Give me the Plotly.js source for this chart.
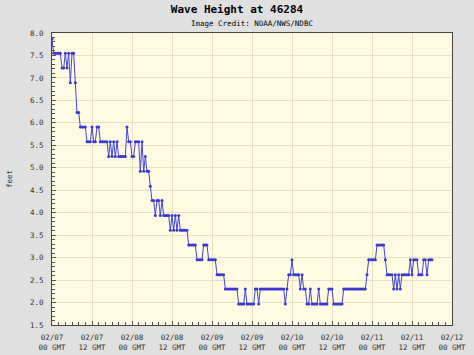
<!DOCTYPE html>
<html>
<head>
<meta charset="utf-8">
<script src="https://cdn.plot.ly/plotly-3.0.1.min.js"></script>
<style>
html,body{margin:0;padding:0;background:#e0e0e0;}
#chart{width:474px;height:355px;}
</style>
</head>
<body>
<div id="chart"></div>
<script>
// Half-hourly wave height readings (feet), starting 02/07 00:00 GMT
const startTime = Date.UTC(2025, 1, 7, 0, 0);
const stepMinutes = 30;
const waveHeightFeet = [
  7.87,7.55,7.55,7.55,7.55,7.55,7.22,7.22,7.55,7.22,
  7.55,6.89,7.55,7.55,6.89,6.23,6.23,5.91,5.91,5.91,
  5.91,5.58,5.58,5.58,5.91,5.58,5.58,5.91,5.91,5.58,
  5.58,5.58,5.58,5.58,5.25,5.58,5.25,5.58,5.25,5.58,
  5.25,5.25,5.25,5.25,5.25,5.91,5.58,5.58,5.25,5.25,
  5.58,5.58,5.58,4.92,5.58,4.92,5.25,4.92,4.92,4.59,
  4.27,4.27,3.94,4.27,4.27,3.94,4.27,3.94,3.94,3.94,
  3.94,3.61,3.94,3.61,3.94,3.61,3.94,3.61,3.61,3.61,
  3.61,3.61,3.28,3.28,3.28,3.28,3.28,2.95,2.95,2.95,
  2.95,3.28,3.28,3.28,2.95,2.95,2.95,2.95,2.95,2.62,
  2.62,2.62,2.62,2.62,2.30,2.30,2.30,2.30,2.30,2.30,
  2.30,2.30,1.97,1.97,1.97,1.97,2.30,1.97,1.97,1.97,
  1.97,1.97,2.30,2.30,1.97,2.30,2.30,2.30,2.30,2.30,
  2.30,2.30,2.30,2.30,2.30,2.30,2.30,2.30,2.30,2.30,
  1.97,2.30,2.62,2.62,2.95,2.62,2.62,2.62,2.62,2.30,
  2.62,2.30,2.30,1.97,1.97,2.30,1.97,1.97,1.97,1.97,
  2.30,1.97,1.97,1.97,1.97,1.97,2.30,2.30,2.30,1.97,
  1.97,1.97,1.97,1.97,1.97,2.30,2.30,2.30,2.30,2.30,
  2.30,2.30,2.30,2.30,2.30,2.30,2.30,2.30,2.30,2.62,
  2.95,2.95,2.95,2.95,2.95,3.28,3.28,3.28,3.28,3.28,
  2.95,2.62,2.62,2.62,2.62,2.30,2.62,2.30,2.62,2.30,
  2.62,2.62,2.62,2.62,2.62,2.95,2.62,2.95,2.95,2.95,
  2.62,2.62,2.62,2.95,2.95,2.62,2.95,2.95,2.95
];
const tickDays = ['02/07','02/07','02/08','02/08','02/09','02/09','02/10','02/10','02/11','02/11','02/12'];
const tickHours = ['00','12','00','12','00','12','00','12','00','12','00'];

const times = waveHeightFeet.map((_, i) => startTime + i * stepMinutes * 60000);
const tickvals = tickDays.map((_, i) => startTime + i * 12 * 3600000);
const ticktext = tickDays.map((d, i) => d + '<br>' + tickHours[i] + ' GMT');

const trace = {
  x: times,
  y: waveHeightFeet,
  type: 'scatter',
  mode: 'lines+markers',
  line: {color: '#4444dd', width: 1},
  marker: {color: '#3a3ad0', size: 3, symbol: 'circle'},
  hoverinfo: 'x+y'
};

const mono = 'DejaVu Sans Mono, Liberation Mono, monospace';
const layout = {
  width: 474, height: 355,
  paper_bgcolor: '#e0e0e0',
  plot_bgcolor: '#fffbe3',
  margin: {l: 52, r: 22, t: 33, b: 30, pad: 0},
  showlegend: false,
  title: {text: '<b>Wave Height at 46284</b>', font: {family: mono, size: 11, color: '#000'}, x: 0.5, xanchor: 'center', y: 0.975, yanchor: 'middle', yref: 'container'},
  annotations: [{
    text: 'Image Credit: NOAA/NWS/NDBC', xref: 'paper', yref: 'paper',
    x: 0.5 , y: 1, yshift: 10, xanchor: 'center', yanchor: 'middle', showarrow: false,
    font: {family: mono, size: 7.5, color: '#000'}
  }],
  xaxis: {
    type: 'date',
    range: [tickvals[0], tickvals[tickvals.length - 1]],
    tickmode: 'array', tickvals: tickvals, ticktext: ticktext,
    tickfont: {family: mono, size: 7.5, color: '#333'},
    ticks: 'inside', ticklen: 4, tickcolor: '#555',
    ticklabelstandoff: 5,
    showgrid: true, gridcolor: '#e8dfc2', gridwidth: 1,
    showline: true, linecolor: '#444', linewidth: 1, mirror: true,
    zeroline: false,
    minor: {dtick: 2 * 3600000, ticks: 'inside', ticklen: 3, tickcolor: '#555', showgrid: false},
    fixedrange: true
  },
  yaxis: {
    range: [1.5, 8.0],
    dtick: 0.5, tick0: 1.5, tickformat: '.1f',
    tickfont: {family: mono, size: 7.5, color: '#333'},
    ticks: 'inside', ticklen: 4, tickcolor: '#555',
    ticklabelstandoff: 6,
    showgrid: true, gridcolor: '#e8dfc2', gridwidth: 1,
    showline: true, linecolor: '#444', linewidth: 1, mirror: true,
    zeroline: false,
    minor: {dtick: 0.1, ticks: 'inside', ticklen: 3, tickcolor: '#555', showgrid: false},
    title: {text: 'feet', font: {family: mono, size: 7.5, color: '#333'}, standoff: 16},
    fixedrange: true
  }
};

Plotly.newPlot('chart', [trace], layout, {displayModeBar: false, staticPlot: true});
</script>
</body>
</html>
